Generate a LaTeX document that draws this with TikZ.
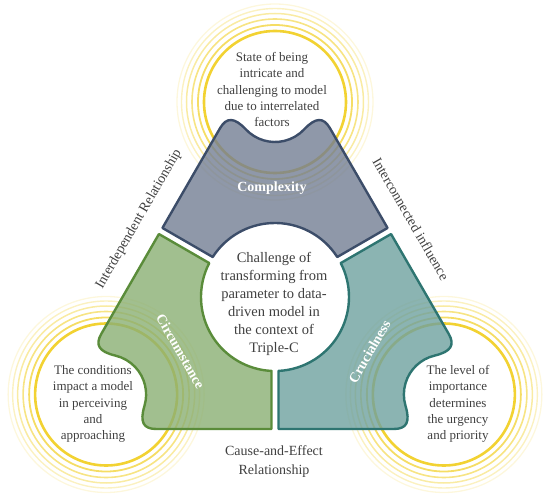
\documentclass[tikz,border=0pt]{standalone}
\usepackage{fontspec}
\setmainfont{Liberation Serif}
\definecolor{ringc}{HTML}{F2D232}
\definecolor{txt}{HTML}{404040}
\definecolor{cxfill}{HTML}{737E93}
\definecolor{cxline}{HTML}{3C4D69}
\definecolor{cifill}{HTML}{8AAF73}
\definecolor{ciline}{HTML}{5A8C3A}
\definecolor{crfill}{HTML}{6EA19F}
\definecolor{crline}{HTML}{2E7571}
\tikzset{
  petalbase/.style={line width=2.4pt, line join=round, fill opacity=0.8},
  cxpetal/.style={petalbase, draw=cxline, fill=cxfill},
  cipetal/.style={petalbase, draw=ciline, fill=cifill},
  crpetal/.style={petalbase, draw=crline, fill=crfill},
  ringtxt/.style={text=txt, align=center, inner sep=0pt, font=\fontsize{13}{16.3}\selectfont},
  centertxt/.style={text=txt, align=center, inner sep=0pt, font=\fontsize{14.5}{18}\selectfont},
  sidetxt/.style={text=txt, align=center, inner sep=0pt, font=\fontsize{14}{19}\selectfont},
  petaltxt/.style={text=white, inner sep=0pt, font=\fontsize{14}{16}\selectfont\bfseries},
}
\newcommand{\petalpath}{(-62.26,39.99) -- (-112.56,69.03) -- (-55,168.74)
  .. controls (-48.42,180.14) and (-40.64,179.76) .. (-29.06,167.52)
  arc[start angle=223.4, end angle=316.6, radius=40pt]
  .. controls (40.64,179.76) and (48.42,180.14) .. (55,168.74)
  -- (112.56,69.03) -- (62.26,39.99)
  arc[start angle=32.71, end angle=147.29, radius=74pt] -- cycle}
\newcommand{\ringset}[1]{%
  \foreach \rr/\oo/\ww in {71/1/2.6, 77/0.75/1.8, 83/0.6/1.6, 88.5/0.45/1.5, 93.5/0.3/1.4, 98/0.17/1.3}{
    \draw[ringc, draw opacity=\oo, line width=\ww pt] (#1) circle[radius=\rr pt];
  }}
\begin{document}
\begin{tikzpicture}[x=1pt,y=1pt]
\useasboundingbox (-275,-204) rectangle (275,297);
\coordinate (ctop) at (0,195);
\coordinate (cleft) at (-168.87,-97.5);
\coordinate (cright) at (168.87,-97.5);
% rings
\ringset{ctop}
\ringset{cleft}
\ringset{cright}
% petals
\draw[cxpetal] \petalpath;
\begin{scope}[rotate=120]
\draw[cipetal] \petalpath;
\end{scope}
\begin{scope}[rotate=240]
\draw[crpetal] \petalpath;
\end{scope}
% texts
\node[ringtxt] (ttop) at (-3,207.5) {State of being\\intricate and\\challenging to model\\due to interrelated\\factors};
\node[ringtxt] (tleft) at (-182,-107) {The conditions\\impact a model\\in perceiving\\and\\approaching};
\node[ringtxt] (tright) at (183,-107) {The level of\\importance\\determines\\the urgency\\and priority};
\node[centertxt] (tcenter) at (-1,-6.5) {Challenge of\\transforming from\\parameter to data-\\driven model in\\the context of\\Triple-C};
\node[petaltxt] (lcx) at (-3,109) {Complexity};
\node[petaltxt, rotate=-60] (lci) at (-94.4,-54.5) {Circumstance};
\node[petaltxt, rotate=60] (lcr) at (94.4,-54.5) {Crucialness};
\node[sidetxt, rotate=60] (sleft) at (-136,78) {Interdependent Relationship};
\node[sidetxt, rotate=-60] (sright) at (136,78) {Interconnected influence};
\node[sidetxt] (sbottom) at (-1,-165) {Cause-and-Effect\\Relationship};
\end{tikzpicture}
\end{document}
